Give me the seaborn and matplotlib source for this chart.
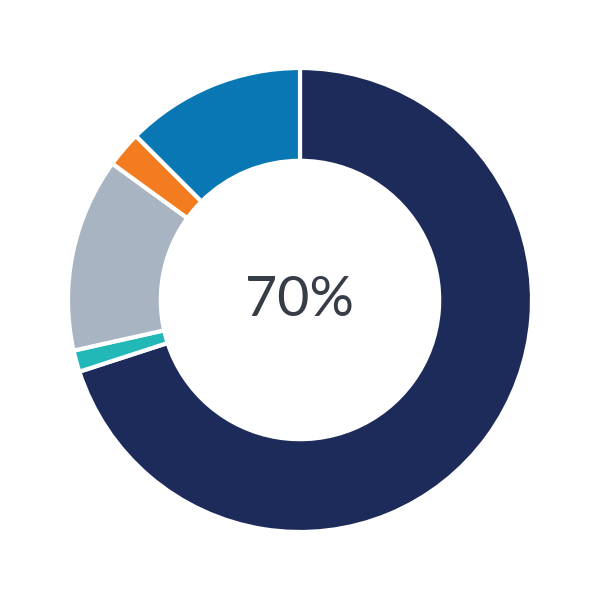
import matplotlib
matplotlib.use("Agg")
import matplotlib.pyplot as plt
import seaborn as sns

# donut slices, clockwise from 12 o'clock
labels = ["Navy", "Teal", "Gray", "Orange", "Blue"]
shares = [70.0, 1.5, 13.5, 2.5, 12.5]
colors = ["#1c2b5a", "#22b8b8", "#a9b4c3", "#f47c20", "#0a77b5"]
center_label = "70%"

sns.set_theme(style="white")
plt.rcParams['font.family'] = ['Lato', 'DejaVu Sans']

fig = plt.figure(figsize=(6, 6), dpi=100)
ax = fig.add_axes([0, 0, 1, 1])

ax.pie(
    shares,
    colors=colors,
    startangle=90,
    counterclock=False,
    radius=1.0,
    wedgeprops=dict(width=0.4, edgecolor="white", linewidth=3),
)

ax.text(0, 0, center_label, ha="center", va="center", fontsize=40, color="#363d47")

lim = 300 / 232
ax.set_xlim(-lim, lim)
ax.set_ylim(-lim, lim)
ax.set_aspect("equal")
ax.axis("off")

fig.savefig("out.png", dpi=100, facecolor="white")
